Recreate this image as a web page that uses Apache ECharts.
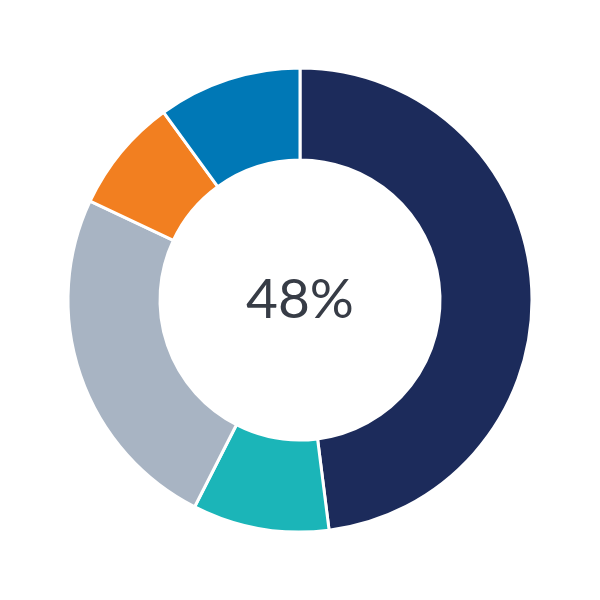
<!DOCTYPE html>
<html><head><meta charset="utf-8">
<script src="https://cdn.jsdelivr.net/npm/echarts@6/dist/echarts.min.js"></script>
<style>html,body{margin:0;padding:0;background:#fff}#c{width:600px;height:600px}</style>
</head><body><div id="c"></div>
<script>
const categories = ['A','B','C','D','E'];
const values = [48, 9.5, 24.5, 8, 10];
const colors = ['#1c2b5b','#1bb5b8','#a8b4c3','#f27f20','#0078b6'];
const centerLabel = '48%';

const chart = echarts.init(document.getElementById('c'));
chart.setOption({
  animation:false,
  title:{text:centerLabel,left:'center',top:'center',textStyle:{fontFamily:'Lato',fontWeight:'normal',fontSize:55,color:'#373c46'}},
  series:[{
    type:'pie',
    center:['50%','50%'],
    radius:[140,232],
    startAngle:90,
    clockwise:true,
    label:{show:false},labelLine:{show:false},
    itemStyle:{borderColor:'#fff',borderWidth:3},
    data:categories.map((c,i)=>({name:c,value:values[i],itemStyle:{color:colors[i]}}))
  }]
});
</script></body></html>
